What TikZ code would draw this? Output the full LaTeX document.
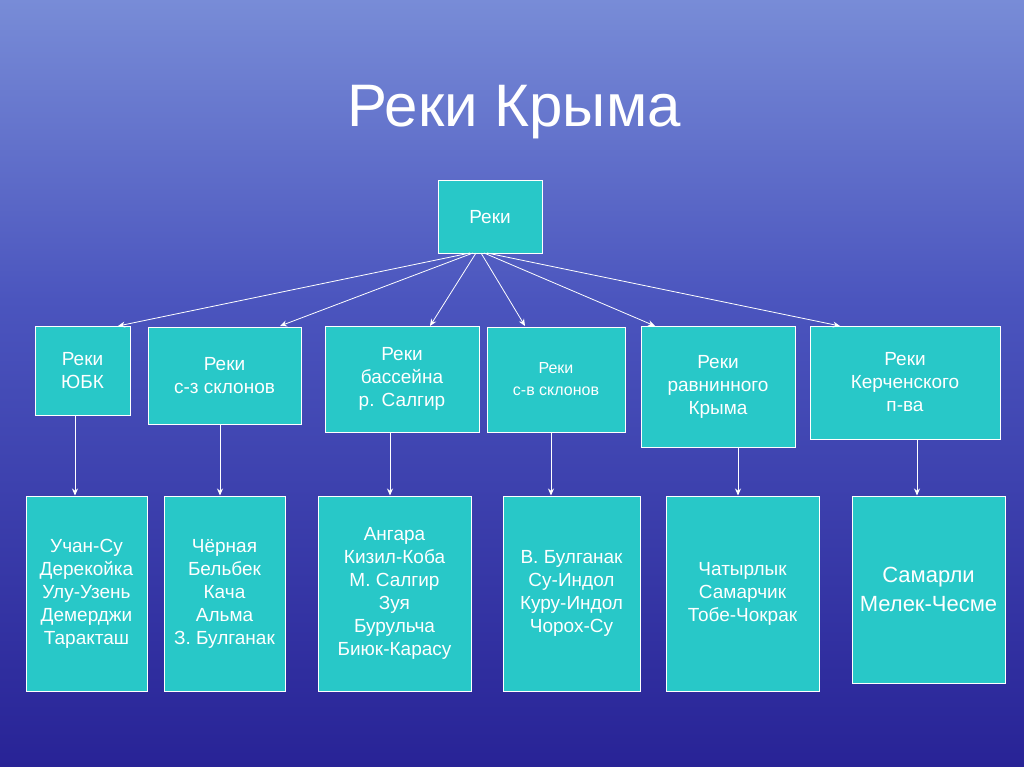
\documentclass[tikz,border=0pt]{standalone}
\usepackage{fontspec}
\setmainfont{Liberation Sans}
\usetikzlibrary{arrows.meta}
\begin{document}
\begin{tikzpicture}[x=1pt,y=-1pt,
  box/.style={draw=white,line width=1pt,fill=boxc,text=white,font=\fontsize{19}{23}\selectfont,align=center,inner sep=0pt},
  arr/.style={draw=white,line width=0.8pt,-{Stealth[length=7pt,width=6pt]}}]
\definecolor{boxc}{RGB}{40,200,200}
\definecolor{bgtop}{RGB}{120,140,215}
\definecolor{bgmid}{RGB}{75,85,190}
\definecolor{bgbot}{RGB}{40,35,150}
\useasboundingbox (0,0) rectangle (1024,767);
\fill[top color=bgtop,bottom color=bgmid] (0,0) rectangle (1024,300);
\fill[top color=bgmid,bottom color=bgbot] (0,300) rectangle (1024,767);
\node (title) [text=white,font=\fontsize{60}{68}\selectfont] at (514,112) {Реки Крыма};
\newcommand{\bx}[6]{\node[box,minimum width=#4-#2,minimum height=#5-#3] (#1) at ({(#2+#4)/2},{(#3+#5)/2}) {#6};}
\bx{top}{438}{181}{542}{253}{Реки}
\bx{a}{35}{326}{130}{415}{Реки\\ЮБК}
\bx{b}{148}{327}{301}{424}{Реки\\с-з склонов}
\bx{c}{325}{326}{479}{432}{Реки\\бассейна\\р. Салгир}
\node[box,font=\fontsize{16}{22}\selectfont,minimum width=138,minimum height=105] (d) at (556,379.5) {Реки\\с-в склонов};
\bx{e}{641}{326}{795}{447}{Реки\\равнинного\\Крыма}
\bx{f}{810}{326}{1000}{439}{Реки\\Керченского\\п-ва}
\bx{a2}{26}{496}{147}{691}{Учан-Су\\Дерекойка\\Улу-Узень\\Демерджи\\Таракташ}
\bx{b2}{164}{496}{285}{691}{Чёрная\\Бельбек\\Кача\\Альма\\З. Булганак}
\bx{c2}{318}{496}{471}{691}{Ангара\\Кизил-Коба\\М. Салгир\\Зуя\\Бурульча\\Биюк-Карасу}
\bx{d2}{503}{496}{640}{691}{В. Булганак\\Су-Индол\\Куру-Индол\\Чорох-Су}
\bx{e2}{666}{496}{819}{691}{Чатырлык\\Самарчик\\Тобе-Чокрак}
\node[box,font=\fontsize{22}{29}\selectfont,minimum width=153,minimum height=187] (f2) at (928.5,589.5) {Самарли\\Мелек-Чесме};
\draw[arr] (470,253) -- (118,326);
\draw[arr] (473,253) -- (280,326);
\draw[arr] (476,253) -- (430,326);
\draw[arr] (481,253) -- (525,326);
\draw[arr] (484,253) -- (655,326);
\draw[arr] (487,253) -- (840,326);
\foreach \s/\t/\xx in {a/a2/75,b/b2/220,c/c2/390,d/d2/551,e/e2/738,f/f2/917}
  \draw[arr] (\s.south -| \xx,0) -- (\t.north -| \xx,0);
\end{tikzpicture}
\end{document}
